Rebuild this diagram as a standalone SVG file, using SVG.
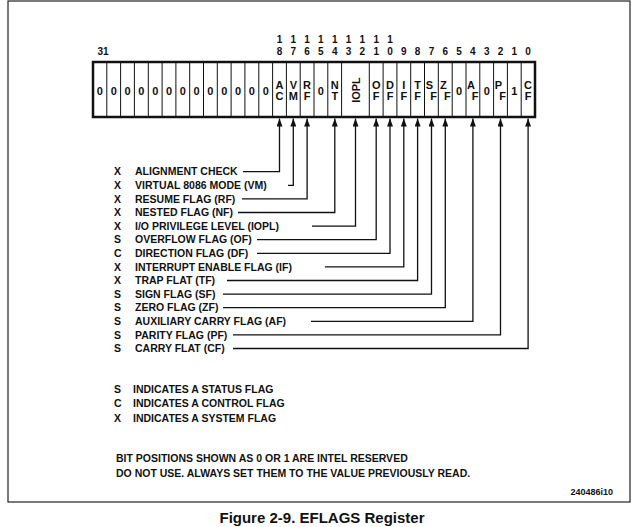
<svg xmlns="http://www.w3.org/2000/svg" width="643" height="527" viewBox="0 0 643 527">
<style>
text{font-family:"Liberation Sans",Arial,sans-serif;font-weight:bold;fill:#111}
.b{font-size:11px;text-anchor:middle}
.l{font-size:10.5px}
.n{font-size:10px;text-anchor:middle}
.c{stroke:#111;stroke-width:1.3;fill:none}
</style>
<defs><marker id="a" markerWidth="8" markerHeight="6" refX="8" refY="3" orient="auto" markerUnits="userSpaceOnUse" viewBox="0 0 8 6"><path d="M0,0 L8,3 L0,6 Z" fill="#111"/></marker></defs>
<rect x="0" y="0" width="643" height="527" fill="#fff"/>
<rect x="8" y="1" width="622" height="501" fill="none" stroke="#222" stroke-width="1.2"/>
<g id="register">
<rect x="93" y="62" width="442" height="55" fill="#fff" stroke="#111" stroke-width="2.5"/>
<g stroke="#111" stroke-width="1">
<line x1="106.8" y1="62" x2="106.8" y2="117"/><line x1="120.6" y1="62" x2="120.6" y2="117"/><line x1="134.4" y1="62" x2="134.4" y2="117"/><line x1="148.3" y1="62" x2="148.3" y2="117"/><line x1="162.1" y1="62" x2="162.1" y2="117"/><line x1="175.9" y1="62" x2="175.9" y2="117"/><line x1="189.7" y1="62" x2="189.7" y2="117"/><line x1="203.5" y1="62" x2="203.5" y2="117"/><line x1="217.3" y1="62" x2="217.3" y2="117"/><line x1="231.1" y1="62" x2="231.1" y2="117"/><line x1="244.9" y1="62" x2="244.9" y2="117"/><line x1="258.8" y1="62" x2="258.8" y2="117"/><line x1="272.6" y1="62" x2="272.6" y2="117"/><line x1="286.4" y1="62" x2="286.4" y2="117"/><line x1="300.2" y1="62" x2="300.2" y2="117"/><line x1="314.0" y1="62" x2="314.0" y2="117"/><line x1="327.8" y1="62" x2="327.8" y2="117"/><line x1="341.6" y1="62" x2="341.6" y2="117"/><line x1="369.3" y1="62" x2="369.3" y2="117"/><line x1="383.1" y1="62" x2="383.1" y2="117"/><line x1="396.9" y1="62" x2="396.9" y2="117"/><line x1="410.7" y1="62" x2="410.7" y2="117"/><line x1="424.5" y1="62" x2="424.5" y2="117"/><line x1="438.3" y1="62" x2="438.3" y2="117"/><line x1="452.2" y1="62" x2="452.2" y2="117"/><line x1="466.0" y1="62" x2="466.0" y2="117"/><line x1="479.8" y1="62" x2="479.8" y2="117"/><line x1="493.6" y1="62" x2="493.6" y2="117"/><line x1="507.4" y1="62" x2="507.4" y2="117"/><line x1="521.2" y1="62" x2="521.2" y2="117"/>
</g>
<g class="b">
<text x="99.9" y="95">0</text><text x="113.7" y="95">0</text><text x="127.5" y="95">0</text><text x="141.4" y="95">0</text><text x="155.2" y="95">0</text><text x="169" y="95">0</text><text x="182.8" y="95">0</text><text x="196.6" y="95">0</text><text x="210.4" y="95">0</text><text x="224.2" y="95">0</text><text x="238" y="95">0</text><text x="251.9" y="95">0</text><text x="265.7" y="95">0</text>
<text x="279.5" y="89">A</text><text x="279.5" y="100">C</text>
<text x="293.3" y="89">V</text><text x="293.3" y="100">M</text>
<text x="307.1" y="89">R</text><text x="307.1" y="100">F</text>
<text x="320.9" y="95">0</text>
<text x="334.8" y="89">N</text><text x="334.8" y="100">T</text>
<text transform="translate(359.5,90) rotate(-90)" x="0" y="0">IOPL</text>
<text x="376.2" y="89">O</text><text x="376.2" y="100">F</text>
<text x="390" y="89">D</text><text x="390" y="100">F</text>
<text x="403.8" y="89">I</text><text x="403.8" y="100">F</text>
<text x="417.6" y="89">T</text><text x="417.6" y="100">F</text>
<text x="429.5" y="89">S</text><text x="433.5" y="100">F</text>
<text x="443.3" y="89">Z</text><text x="447.3" y="100">F</text>
<text x="459.1" y="95">0</text>
<text x="471" y="89">A</text><text x="475" y="100">F</text>
<text x="486.7" y="95">0</text>
<text x="498.5" y="89">P</text><text x="502.5" y="100">F</text>
<text x="514.3" y="95">1</text>
<text x="528.1" y="89">C</text><text x="528.1" y="100">F</text>
</g>
<g class="n">
<text x="103" y="55">31</text>
<text x="279.5" y="43">1</text><text x="279.5" y="55">8</text>
<text x="293.3" y="43">1</text><text x="293.3" y="55">7</text>
<text x="307.1" y="43">1</text><text x="307.1" y="55">6</text>
<text x="320.9" y="43">1</text><text x="320.9" y="55">5</text>
<text x="334.8" y="43">1</text><text x="334.8" y="55">4</text>
<text x="348.6" y="43">1</text><text x="348.6" y="55">3</text>
<text x="362.4" y="43">1</text><text x="362.4" y="55">2</text>
<text x="376.2" y="43">1</text><text x="376.2" y="55">1</text>
<text x="390" y="43">1</text><text x="390" y="55">0</text>
<text x="403.8" y="55">9</text><text x="417.6" y="55">8</text><text x="431.5" y="55">7</text><text x="445.3" y="55">6</text><text x="459.1" y="55">5</text><text x="472.9" y="55">4</text><text x="486.7" y="55">3</text><text x="500.5" y="55">2</text><text x="514.3" y="55">1</text><text x="528.1" y="55">0</text>
</g>
</g>
<g id="labels" class="l">
<text x="114" y="175.4">X</text><text x="135" y="175.4">ALIGNMENT CHECK</text>
<text x="114" y="189">X</text><text x="135" y="189">VIRTUAL 8086 MODE (VM)</text>
<text x="114" y="202.6">X</text><text x="135" y="202.6">RESUME FLAG (RF)</text>
<text x="114" y="216.2">X</text><text x="135" y="216.2">NESTED FLAG (NF)</text>
<text x="114" y="229.8">X</text><text x="135" y="229.8">I/O PRIVILEGE LEVEL (IOPL)</text>
<text x="114" y="243.4">S</text><text x="135" y="243.4">OVERFLOW FLAG (OF)</text>
<text x="114" y="257">C</text><text x="135" y="257">DIRECTION FLAG (DF)</text>
<text x="114" y="270.6">X</text><text x="135" y="270.6">INTERRUPT ENABLE FLAG (IF)</text>
<text x="114" y="284.2">X</text><text x="135" y="284.2">TRAP FLAT (TF)</text>
<text x="114" y="297.8">S</text><text x="135" y="297.8">SIGN FLAG (SF)</text>
<text x="114" y="311.4">S</text><text x="135" y="311.4">ZERO FLAG (ZF)</text>
<text x="114" y="325">S</text><text x="135" y="325">AUXILIARY CARRY FLAG (AF)</text>
<text x="114" y="338.6">S</text><text x="135" y="338.6">PARITY FLAG (PF)</text>
<text x="114" y="352.2">S</text><text x="135" y="352.2">CARRY FLAT (CF)</text>
</g>
<g id="connectors" class="c">
<polyline points="243,171.7 279.5,171.7 279.5,118.5" marker-end="url(#a)"/>
<polyline points="288,185.3 293.3,185.3 293.3,118.5" marker-end="url(#a)"/>
<polyline points="242,198.9 307.1,198.9 307.1,118.5" marker-end="url(#a)"/>
<polyline points="238,212.5 334.8,212.5 334.8,118.5" marker-end="url(#a)"/>
<polyline points="312,226.1 355.5,226.1 355.5,118.5" marker-end="url(#a)"/>
<polyline points="257,239.7 376.2,239.7 376.2,118.5" marker-end="url(#a)"/>
<polyline points="257,253.3 390,253.3 390,118.5" marker-end="url(#a)"/>
<polyline points="325,266.9 403.8,266.9 403.8,118.5" marker-end="url(#a)"/>
<polyline points="227,280.5 417.6,280.5 417.6,118.5" marker-end="url(#a)"/>
<polyline points="223,294.1 431.5,294.1 431.5,118.5" marker-end="url(#a)"/>
<polyline points="223,307.7 445.3,307.7 445.3,118.5" marker-end="url(#a)"/>
<polyline points="311,321.3 472.9,321.3 472.9,118.5" marker-end="url(#a)"/>
<polyline points="233,334.9 500.5,334.9 500.5,118.5" marker-end="url(#a)"/>
<polyline points="233,348.5 528.1,348.5 528.1,118.5" marker-end="url(#a)"/>
</g>
<g id="legend" class="l">
<text x="114" y="392.5">S</text><text x="133" y="392.5">INDICATES A STATUS FLAG</text>
<text x="114" y="407">C</text><text x="133" y="407">INDICATES A CONTROL FLAG</text>
<text x="114" y="421.5">X</text><text x="133" y="421.5">INDICATES A SYSTEM FLAG</text>
<text x="116" y="461.5">BIT POSITIONS SHOWN AS 0 OR 1 ARE INTEL RESERVED</text>
<text x="116" y="477">DO NOT USE.  ALWAYS SET THEM TO THE VALUE PREVIOUSLY READ.</text>
<text x="613" y="495" style="font-size:9px;text-anchor:end">240486i10</text>
</g>
<text x="322" y="523" style="font-size:15px;text-anchor:middle">Figure 2-9.  EFLAGS Register</text>
</svg>
